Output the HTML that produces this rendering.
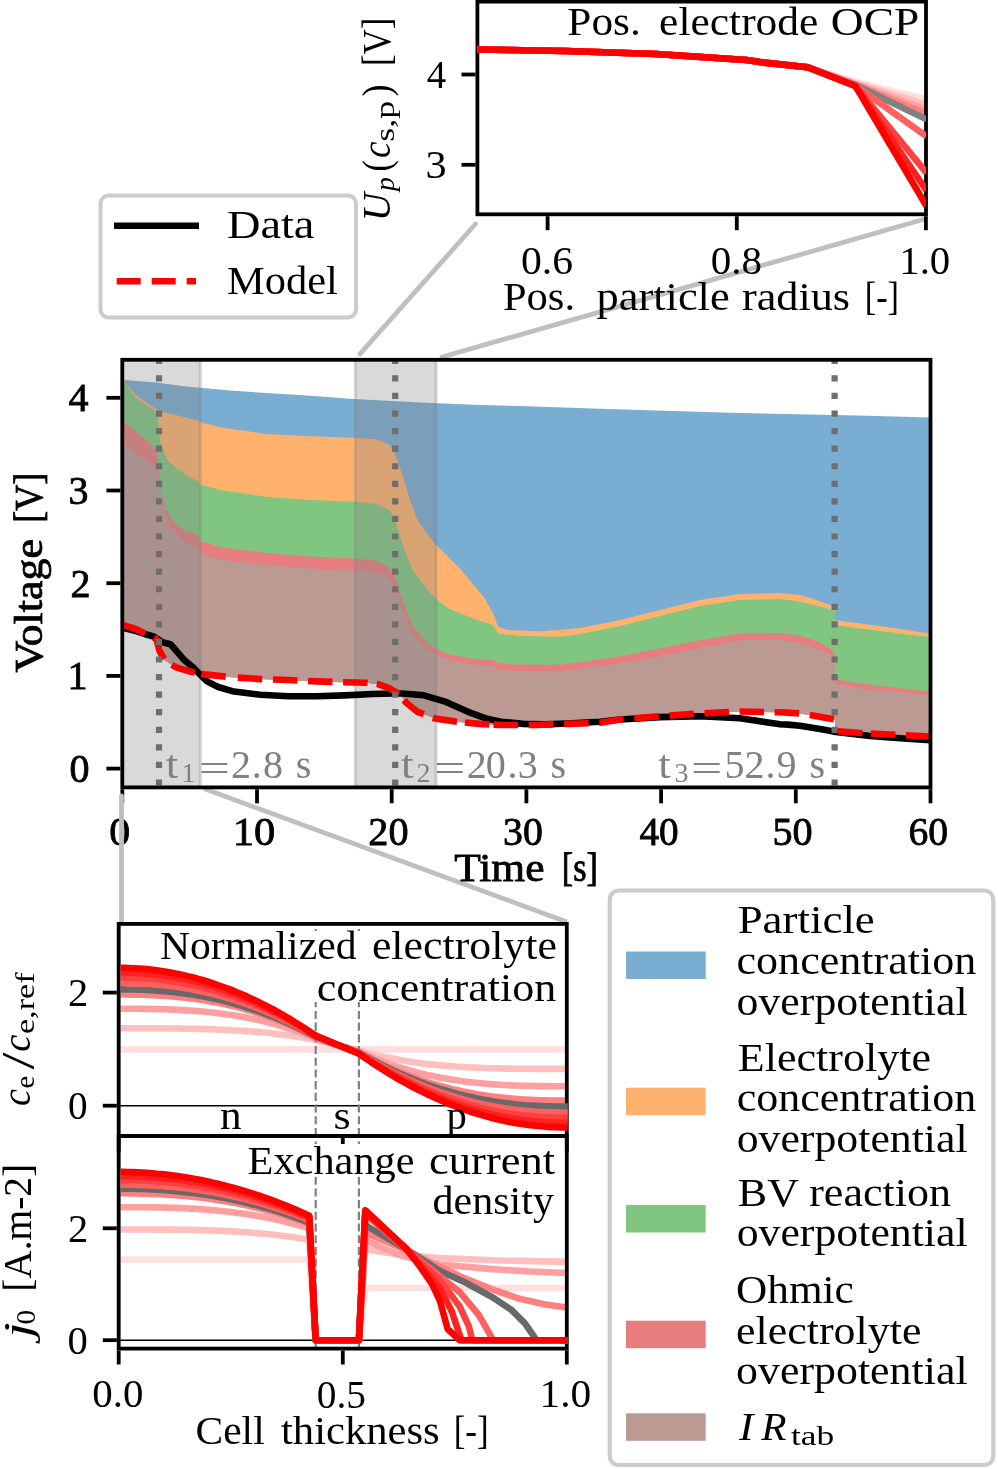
<!DOCTYPE html>
<html><head><meta charset="utf-8"><title>Voltage decomposition figure</title>
<style>html,body{margin:0;padding:0;background:#fff;} svg{display:block;}</style>
</head><body>
<svg width="998" height="1469" viewBox="0 0 998 1469" font-family="'Liberation Serif', 'DejaVu Serif', serif">
<rect x="0" y="0" width="998" height="1469" fill="#fff"/>
<line x1="360" y1="353.9" x2="475.5" y2="224" stroke="#bfbfbf" stroke-width="4.8" stroke-linecap="round"/>
<line x1="442" y1="357" x2="925" y2="219" stroke="#bfbfbf" stroke-width="4.8" stroke-linecap="round"/>
<line x1="204" y1="788.6" x2="567" y2="922" stroke="#bfbfbf" stroke-width="4.8"/>
<defs><clipPath id="cm"><rect x="122.3" y="359.8" width="808.2" height="427.59999999999997"/></clipPath><clipPath id="ce"><rect x="120.6" y="923.9" width="447.19999999999993" height="212.10000000000002"/></clipPath><clipPath id="cj"><rect x="120.6" y="1136" width="447.19999999999993" height="212.5999999999999"/></clipPath><clipPath id="ce0"><rect x="120.6" y="923.9" width="446.19999999999993" height="212.10000000000002"/></clipPath><clipPath id="cj0"><rect x="120.6" y="1136" width="446.19999999999993" height="212.5999999999999"/></clipPath><clipPath id="co"><rect x="477.4" y="1.6" width="448.6" height="212.70000000000002"/></clipPath></defs>
<g clip-path="url(#cm)">
<polygon points="122.3,380.0 124.4,380.1 140.0,381.3 156.0,382.5 182.0,385.9 200.0,387.8 230.0,390.5 266.0,393.0 300.0,395.0 354.0,399.0 420.0,402.5 480.0,404.9 520.0,406.1 600.0,408.8 730.0,412.8 858.0,415.5 930.5,417.5 930.5,736.5 900.7,735.0 860.6,733.0 835.1,731.0 834.9,719.5 828.0,718.3 812.5,715.5 800.0,713.5 780.0,712.3 740.0,711.5 700.0,713.5 660.0,716.3 620.0,719.5 600.0,722.8 567.4,723.9 534.3,725.0 501.3,725.0 479.2,723.9 457.2,721.7 435.1,718.4 417.5,711.8 406.5,703.0 399.8,694.0 393.9,691.0 389.4,688.4 378.1,684.2 366.9,682.8 344.5,682.2 316.4,681.4 288.3,680.0 260.3,679.1 232.2,677.2 204.2,674.4 190.1,671.5 176.1,667.3 164.9,660.3 159.3,650.5 156.5,639.3 148.0,635.1 136.8,629.5 124.2,625.3 122.3,624.8" fill="#79add2"/>
<polygon points="122.3,381.3 124.4,381.5 135.6,394.7 145.8,402.2 156.0,409.0 160.0,411.1 169.7,413.8 182.0,416.5 197.6,420.5 200.0,421.9 222.0,427.4 266.0,434.0 310.0,436.2 354.0,437.8 376.4,439.5 380.0,440.6 389.3,444.8 396.2,456.4 403.1,477.2 410.1,500.3 417.0,518.8 426.3,532.7 435.5,544.3 449.4,558.2 461.0,569.7 472.5,583.6 484.1,597.5 493.4,613.7 498.0,626.4 507.3,629.9 530.4,631.0 540.0,631.5 580.0,628.1 620.0,620.1 660.0,610.1 700.0,600.1 740.0,594.1 780.0,592.9 800.0,595.1 814.0,599.3 828.0,604.2 834.9,607.0 835.1,620.3 860.6,623.5 900.7,629.0 930.5,633.8 930.5,736.5 900.7,735.0 860.6,733.0 835.1,731.0 834.9,719.5 828.0,718.3 812.5,715.5 800.0,713.5 780.0,712.3 740.0,711.5 700.0,713.5 660.0,716.3 620.0,719.5 600.0,722.8 567.4,723.9 534.3,725.0 501.3,725.0 479.2,723.9 457.2,721.7 435.1,718.4 417.5,711.8 406.5,703.0 399.8,694.0 393.9,691.0 389.4,688.4 378.1,684.2 366.9,682.8 344.5,682.2 316.4,681.4 288.3,680.0 260.3,679.1 232.2,677.2 204.2,674.4 190.1,671.5 176.1,667.3 164.9,660.3 159.3,650.5 156.5,639.3 148.0,635.1 136.8,629.5 124.2,625.3 122.3,624.8" fill="#ffb26e"/>
<polygon points="122.3,381.6 124.4,381.8 135.6,397.5 145.8,405.0 154.0,410.4 158.1,417.2 158.8,429.5 160.1,439.7 162.9,449.9 168.3,461.5 173.8,465.5 176.5,469.0 182.0,471.0 184.7,474.8 197.6,481.3 200.0,484.7 222.0,490.2 266.0,496.8 310.0,500.1 354.0,501.7 376.4,503.9 389.6,510.0 396.2,523.0 403.1,546.6 412.4,569.7 426.3,588.2 435.5,598.6 449.4,609.0 472.5,618.3 493.4,625.3 498.0,633.4 518.8,635.7 560.0,636.8 580.0,634.1 620.0,626.1 660.0,616.1 700.0,606.1 740.0,600.1 780.0,598.9 800.0,601.4 814.0,604.9 828.0,608.4 834.9,611.0 835.1,625.2 860.6,628.5 900.7,633.8 930.5,637.0 930.5,736.5 900.7,735.0 860.6,733.0 835.1,731.0 834.9,719.5 828.0,718.3 812.5,715.5 800.0,713.5 780.0,712.3 740.0,711.5 700.0,713.5 660.0,716.3 620.0,719.5 600.0,722.8 567.4,723.9 534.3,725.0 501.3,725.0 479.2,723.9 457.2,721.7 435.1,718.4 417.5,711.8 406.5,703.0 399.8,694.0 393.9,691.0 389.4,688.4 378.1,684.2 366.9,682.8 344.5,682.2 316.4,681.4 288.3,680.0 260.3,679.1 232.2,677.2 204.2,674.4 190.1,671.5 176.1,667.3 164.9,660.3 159.3,650.5 156.5,639.3 148.0,635.1 136.8,629.5 124.2,625.3 122.3,624.8" fill="#80c680"/>
<polygon points="122.3,421.8 124.4,422.0 135.6,431.5 145.8,439.7 153.3,446.5 156.7,451.2 158.1,463.5 158.8,467.0 161.4,492.9 166.6,509.7 174.3,522.7 184.7,530.4 197.6,534.3 200.0,540.9 222.0,547.5 266.0,553.0 310.0,556.4 354.0,558.6 376.4,560.8 380.0,562.8 389.3,567.4 396.2,579.0 403.1,602.1 412.4,625.3 426.3,641.5 435.5,648.4 449.4,654.2 472.5,658.8 493.4,660.0 498.0,663.4 518.8,664.6 560.0,664.8 580.0,662.2 620.0,656.2 660.0,648.2 700.0,640.2 740.0,633.3 780.0,633.0 800.0,635.7 814.0,639.9 828.0,647.0 834.9,653.5 835.1,679.2 860.6,683.5 900.7,688.3 930.5,691.5 930.5,736.5 900.7,735.0 860.6,733.0 835.1,731.0 834.9,719.5 828.0,718.3 812.5,715.5 800.0,713.5 780.0,712.3 740.0,711.5 700.0,713.5 660.0,716.3 620.0,719.5 600.0,722.8 567.4,723.9 534.3,725.0 501.3,725.0 479.2,723.9 457.2,721.7 435.1,718.4 417.5,711.8 406.5,703.0 399.8,694.0 393.9,691.0 389.4,688.4 378.1,684.2 366.9,682.8 344.5,682.2 316.4,681.4 288.3,680.0 260.3,679.1 232.2,677.2 204.2,674.4 190.1,671.5 176.1,667.3 164.9,660.3 159.3,650.5 156.5,639.3 148.0,635.1 136.8,629.5 124.2,625.3 122.3,624.8" fill="#e67d7e"/>
<polygon points="122.3,443.6 124.4,443.8 135.6,453.3 145.8,460.1 154.7,467.6 158.1,475.0 159.4,478.0 162.7,499.4 169.2,525.2 178.2,535.6 184.7,542.0 197.6,547.2 200.0,554.2 222.0,559.7 266.0,565.2 310.0,568.5 354.0,570.7 376.4,572.9 380.0,574.4 389.3,579.0 396.2,588.2 403.1,613.7 412.4,634.5 426.3,648.4 435.5,654.2 449.4,660.0 472.5,664.6 493.4,665.7 498.0,670.4 518.8,671.0 560.0,671.5 580.0,668.2 620.0,663.4 660.0,656.2 700.0,648.2 740.0,640.2 780.0,639.4 800.0,643.4 814.0,647.7 828.0,653.3 834.9,659.0 835.1,683.4 860.6,688.5 900.7,692.5 930.5,695.0 930.5,736.5 900.7,735.0 860.6,733.0 835.1,731.0 834.9,719.5 828.0,718.3 812.5,715.5 800.0,713.5 780.0,712.3 740.0,711.5 700.0,713.5 660.0,716.3 620.0,719.5 600.0,722.8 567.4,723.9 534.3,725.0 501.3,725.0 479.2,723.9 457.2,721.7 435.1,718.4 417.5,711.8 406.5,703.0 399.8,694.0 393.9,691.0 389.4,688.4 378.1,684.2 366.9,682.8 344.5,682.2 316.4,681.4 288.3,680.0 260.3,679.1 232.2,677.2 204.2,674.4 190.1,671.5 176.1,667.3 164.9,660.3 159.3,650.5 156.5,639.3 148.0,635.1 136.8,629.5 124.2,625.3 122.3,624.8" fill="#ba9a93"/>
<rect x="119.6" y="354.8" width="80.8" height="437.59999999999997" fill="#808080" fill-opacity="0.3" stroke="#808080" stroke-opacity="0.3" stroke-width="3"/>
<rect x="355.3" y="354.8" width="80.8" height="437.59999999999997" fill="#808080" fill-opacity="0.3" stroke="#808080" stroke-opacity="0.3" stroke-width="3"/>
<polyline points="122.3,627.6 124.0,628.1 137.0,631.4 145.3,634.2 153.7,636.5 162.0,642.1 170.5,644.3 176.0,650.5 184.5,660.3 193.0,667.3 198.6,673.0 207.0,681.4 218.2,687.0 232.2,691.2 260.3,694.8 288.3,696.2 316.4,696.2 344.5,695.4 372.5,694.0 394.0,693.5 402.0,693.5 424.0,695.3 446.0,701.9 468.0,711.8 485.8,718.4 501.0,721.7 523.0,723.9 545.0,724.4 567.0,723.5 600.0,721.7 620.0,719.5 660.0,717.1 700.0,716.3 740.0,718.3 780.0,724.3 788.0,724.6 800.0,725.8 820.0,729.0 833.7,731.6 870.0,736.0 900.0,738.3 930.5,740.2" fill="none" stroke="#000" stroke-width="6.6" stroke-linejoin="round"/>
<path d="M122.3,624.8 L124.2,625.3 L136.8,629.5 L145.1,633.6 M153.7,637.9 L156.5,639.3 L159.3,650.5 L164.2,659.0 M171.9,664.7 L176.1,667.3 L190.1,671.5 L194.9,672.5 M201.4,673.8 L204.2,674.4 L225.7,676.6 M237.8,677.6 L260.3,679.1 L262.2,679.2 M272.9,679.5 L288.3,680.0 L297.4,680.5 M308.0,681.0 L316.4,681.4 L332.5,681.9 M343.1,682.2 L344.5,682.2 L366.9,682.8 L367.6,682.9 M376.7,684.0 L378.1,684.2 L389.4,688.4 L393.9,691.0 L399.1,693.6 M404.3,700.0 L406.5,703.0 L417.5,711.8 L423.8,714.2 M432.9,717.6 L435.1,718.4 L457.0,721.7 M464.9,722.5 L479.2,723.9 L489.3,724.4 M493.5,724.6 L501.3,725.0 L518.0,725.0 M528.8,725.0 L534.3,725.0 L553.3,724.4 M564.1,724.0 L567.4,723.9 L588.6,723.2 M599.3,722.8 L600.0,722.8 L620.0,719.5 L623.5,719.2 M634.4,718.3 L658.8,716.4 M669.4,715.6 L693.8,713.9 M704.5,713.3 L729.0,712.1 M739.6,711.5 L740.0,711.5 L764.1,712.0 M774.6,712.2 L780.0,712.3 L799.1,713.4 M809.7,715.1 L812.5,715.5 L828.0,718.3 L833.8,719.3 M837.9,731.2 L860.6,733.0 L862.3,733.1 M870.8,733.5 L895.3,734.7 M905.9,735.3 L930.4,736.5" fill="none" stroke="#f00" stroke-width="6.6" stroke-linejoin="round"/>
<line x1="159.0" y1="785.6" x2="159.0" y2="359.8" stroke="#6e6e6e" stroke-width="6.2" stroke-dasharray="6.2 11.37"/>
<line x1="395.2" y1="785.6" x2="395.2" y2="359.8" stroke="#6e6e6e" stroke-width="6.2" stroke-dasharray="6.2 11.37"/>
<line x1="834.6" y1="785.6" x2="834.6" y2="359.8" stroke="#6e6e6e" stroke-width="6.2" stroke-dasharray="6.2 11.37"/>
</g>
<rect x="122.3" y="359.8" width="808.2" height="427.6" fill="none" stroke="#000" stroke-width="3.8" stroke-linejoin="miter"/>
<line x1="106.4" y1="768.6" x2="120.4" y2="768.6" stroke="#000" stroke-width="3.8"/>
<text x="88.8" y="782.0" font-size="40" text-anchor="end" stroke="#000" stroke-width="0.8" id="my0" transform="translate(0.60,0) translate(88.80,0) scale(1.0000,1) translate(-88.80,0)">0</text>
<line x1="106.4" y1="675.9" x2="120.4" y2="675.9" stroke="#000" stroke-width="3.8"/>
<text x="88.8" y="689.3" font-size="40" text-anchor="end" stroke="#000" stroke-width="0.8" id="my1" transform="translate(-1.30,0) translate(88.80,0) scale(1.0000,1) translate(-88.80,0)">1</text>
<line x1="106.4" y1="583.2" x2="120.4" y2="583.2" stroke="#000" stroke-width="3.8"/>
<text x="88.8" y="596.6" font-size="40" text-anchor="end" stroke="#000" stroke-width="0.8" id="my2" transform="translate(1.60,0) translate(88.80,0) scale(1.0000,1) translate(-88.80,0)">2</text>
<line x1="106.4" y1="490.5" x2="120.4" y2="490.5" stroke="#000" stroke-width="3.8"/>
<text x="88.8" y="503.9" font-size="40" text-anchor="end" stroke="#000" stroke-width="0.8" id="my3" transform="translate(-0.40,0) translate(88.80,0) scale(1.0000,1) translate(-88.80,0)">3</text>
<line x1="106.4" y1="397.8" x2="120.4" y2="397.8" stroke="#000" stroke-width="3.8"/>
<text x="88.8" y="411.2" font-size="40" text-anchor="end" stroke="#000" stroke-width="0.8" id="my4" transform="translate(-0.40,0) translate(88.80,0) scale(1.0000,1) translate(-88.80,0)">4</text>
<line x1="122.3" y1="789.3" x2="122.3" y2="803.3" stroke="#000" stroke-width="3.8"/>
<text x="122.3" y="844.6" font-size="40" text-anchor="middle" stroke="#000" stroke-width="0.8" id="mx0" transform="translate(-2.46,0) translate(122.30,0) scale(1.0474,1) translate(-122.30,0)">0</text>
<line x1="257.0" y1="789.3" x2="257.0" y2="803.3" stroke="#000" stroke-width="3.8"/>
<text x="257.0" y="844.6" font-size="40" text-anchor="middle" stroke="#000" stroke-width="0.8" id="mx10" transform="translate(-3.01,0) translate(257.00,0) scale(1.0639,1) translate(-257.00,0)">10</text>
<line x1="391.7" y1="789.3" x2="391.7" y2="803.3" stroke="#000" stroke-width="3.8"/>
<text x="391.7" y="844.6" font-size="40" text-anchor="middle" stroke="#000" stroke-width="0.8" id="mx20" transform="translate(-3.30,0) translate(391.70,0) scale(1.0053,1) translate(-391.70,0)">20</text>
<line x1="526.4" y1="789.3" x2="526.4" y2="803.3" stroke="#000" stroke-width="3.8"/>
<text x="526.4" y="844.6" font-size="40" text-anchor="middle" stroke="#000" stroke-width="0.8" id="mx30" transform="translate(-3.50,0) translate(526.40,0) scale(0.9947,1) translate(-526.40,0)">30</text>
<line x1="661.1" y1="789.3" x2="661.1" y2="803.3" stroke="#000" stroke-width="3.8"/>
<text x="661.1" y="844.6" font-size="40" text-anchor="middle" stroke="#000" stroke-width="0.8" id="mx40" transform="translate(-2.11,0) translate(661.10,0) scale(0.9795,1) translate(-661.10,0)">40</text>
<line x1="795.8" y1="789.3" x2="795.8" y2="803.3" stroke="#000" stroke-width="3.8"/>
<text x="795.8" y="844.6" font-size="40" text-anchor="middle" stroke="#000" stroke-width="0.8" id="mx50" transform="translate(-3.20,0) translate(795.80,0) scale(1.0053,1) translate(-795.80,0)">50</text>
<line x1="930.5" y1="789.3" x2="930.5" y2="803.3" stroke="#000" stroke-width="3.8"/>
<text x="930.5" y="844.6" font-size="40" text-anchor="middle" stroke="#000" stroke-width="0.8" id="mx60" transform="translate(-2.15,0) translate(930.50,0) scale(0.9923,1) translate(-930.50,0)">60</text>
<text x="453.6" y="881.2" font-size="40" stroke="#000" stroke-width="0.8" id="mxl_w0" transform="translate(0.65,0) translate(453.60,0) scale(1.0867,1) translate(-453.60,0)">Time</text>
<text x="563.3" y="881.2" font-size="40" stroke="#000" stroke-width="0.8" id="mxl_w1" transform="translate(-1.45,0) translate(563.30,0) scale(0.8553,1) translate(-563.30,0)">[s]</text>
<text id="myl1" transform="translate(42.30,672.80) rotate(-90) translate(0.22,0) scale(1.0992,1)" x="0" y="0" font-size="40" stroke="#000" stroke-width="0.8">Voltage</text>
<text id="myl2" transform="translate(42.30,521.00) rotate(-90) translate(-1.81,0) scale(0.9039,1)" x="0" y="0" font-size="40" stroke="#000" stroke-width="0.8">[V]</text>
<text x="165.3" y="777.9" font-size="40" fill="#808080" id="t1_0" transform="translate(0.34,0) translate(165.30,0) scale(1.1273,1) translate(-165.30,0)">t</text>
<text x="183.7" y="781.9" font-size="28" fill="#808080" id="t1_1" transform="translate(-2.30,0) translate(183.70,0) scale(1.0000,1) translate(-183.70,0)">1</text>
<text x="200.6" y="781.7" font-size="40" fill="#808080" id="t1_2" transform="translate(-1.95,0) translate(200.60,0) scale(1.3895,1) translate(-200.60,0)">=</text>
<text x="232.0" y="777.9" font-size="40" fill="#808080" id="t1_3" transform="translate(-1.00,0) translate(232.00,0) scale(1.0000,1) translate(-232.00,0)">2</text>
<text x="254.4" y="777.9" font-size="40" fill="#808080" id="t1_4" transform="translate(-2.60,0) translate(254.40,0) scale(1.0000,1) translate(-254.40,0)">.</text>
<text x="264.0" y="777.9" font-size="40" fill="#808080" id="t1_5" transform="translate(-1.00,0) translate(264.00,0) scale(1.0000,1) translate(-264.00,0)">8</text>
<text x="296.9" y="777.9" font-size="40" fill="#808080" id="t1_6" transform="translate(-1.10,0) translate(296.90,0) scale(1.0000,1) translate(-296.90,0)">s</text>
<text x="401.0" y="777.9" font-size="40" fill="#808080" id="t2_0" transform="translate(0.00,0) translate(401.00,0) scale(1.1273,1) translate(-401.00,0)">t</text>
<text x="417.8" y="781.9" font-size="28" fill="#808080" id="t2_1" transform="translate(-1.20,0) translate(417.80,0) scale(1.0000,1) translate(-417.80,0)">2</text>
<text x="436.3" y="781.7" font-size="40" fill="#808080" id="t2_2" transform="translate(-2.36,0) translate(436.30,0) scale(1.3895,1) translate(-436.30,0)">=</text>
<text x="467.9" y="777.9" font-size="40" fill="#808080" id="t2_3" transform="translate(-1.10,0) translate(467.90,0) scale(1.0000,1) translate(-467.90,0)">2</text>
<text x="487.4" y="777.9" font-size="40" fill="#808080" id="t2_4" transform="translate(-1.60,0) translate(487.40,0) scale(1.0000,1) translate(-487.40,0)">0</text>
<text x="509.8" y="777.9" font-size="40" fill="#808080" id="t2_5" transform="translate(-2.20,0) translate(509.80,0) scale(1.0000,1) translate(-509.80,0)">.</text>
<text x="519.4" y="777.9" font-size="40" fill="#808080" id="t2_6" transform="translate(-1.60,0) translate(519.40,0) scale(1.0000,1) translate(-519.40,0)">3</text>
<text x="552.3" y="777.9" font-size="40" fill="#808080" id="t2_7" transform="translate(-1.70,0) translate(552.30,0) scale(1.0000,1) translate(-552.30,0)">s</text>
<text x="658.6" y="777.9" font-size="40" fill="#808080" id="t3_0" transform="translate(-0.45,0) translate(658.60,0) scale(1.1273,1) translate(-658.60,0)">t</text>
<text x="675.8" y="781.9" font-size="28" fill="#808080" id="t3_1" transform="translate(-1.20,0) translate(675.80,0) scale(1.0000,1) translate(-675.80,0)">3</text>
<text x="693.9" y="781.7" font-size="40" fill="#808080" id="t3_2" transform="translate(-2.92,0) translate(693.90,0) scale(1.3895,1) translate(-693.90,0)">=</text>
<text x="726.3" y="777.9" font-size="40" fill="#808080" id="t3_3" transform="translate(-1.70,0) translate(726.30,0) scale(1.0000,1) translate(-726.30,0)">5</text>
<text x="745.8" y="777.9" font-size="40" fill="#808080" id="t3_4" transform="translate(-1.20,0) translate(745.80,0) scale(1.0000,1) translate(-745.80,0)">2</text>
<text x="768.2" y="777.9" font-size="40" fill="#808080" id="t3_5" transform="translate(-2.80,0) translate(768.20,0) scale(1.0000,1) translate(-768.20,0)">.</text>
<text x="777.8" y="777.9" font-size="40" fill="#808080" id="t3_6" transform="translate(-1.20,0) translate(777.80,0) scale(1.0000,1) translate(-777.80,0)">9</text>
<text x="810.7" y="777.9" font-size="40" fill="#808080" id="t3_7" transform="translate(-1.30,0) translate(810.70,0) scale(1.0000,1) translate(-810.70,0)">s</text>
<line x1="121.5" y1="796" x2="121.5" y2="921" stroke="#bfbfbf" stroke-width="4.8" stroke-linecap="round"/>
<rect x="100.5" y="195.5" width="255.5" height="122" rx="8" ry="8" fill="#fff" fill-opacity="0.8" stroke="#cccccc" stroke-width="4"/>
<line x1="114" y1="225.7" x2="199" y2="225.7" stroke="#000" stroke-width="6.6"/>
<line x1="116.7" y1="281.2" x2="196" y2="281.2" stroke="#f00" stroke-width="6.6" stroke-dasharray="24 11"/>
<text x="227.5" y="238.3" font-size="40" id="lg_data" transform="translate(-0.58,0) translate(227.50,0) scale(1.1600,1) translate(-227.50,0)">Data</text>
<text x="227.5" y="293.9" font-size="40" id="lg_model" transform="translate(-0.53,0) translate(227.50,0) scale(1.0621,1) translate(-227.50,0)">Model</text>
<g clip-path="url(#co)">
<polyline points="477.4,49.5 566.0,51.0 656.0,54.0 746.5,60.0 760.0,62.1 807.7,67.3 855.4,82.0 926.5,99.6" fill="none" stroke="rgb(255,223,223)" stroke-width="6.6" stroke-linejoin="round"/>
<polyline points="477.4,49.5 566.0,51.0 656.0,54.0 746.5,60.0 760.0,62.1 807.7,67.3 855.4,83.0 926.5,104.7" fill="none" stroke="rgb(255,191,191)" stroke-width="6.6" stroke-linejoin="round"/>
<polyline points="477.4,49.5 566.0,51.0 656.0,54.0 746.5,60.0 760.0,62.1 807.7,67.3 855.4,84.0 926.5,109.8" fill="none" stroke="rgb(255,159,159)" stroke-width="6.6" stroke-linejoin="round"/>
<polyline points="477.4,49.5 566.0,51.0 656.0,54.0 746.5,60.0 760.0,62.1 807.7,67.3 855.4,84.5 926.5,114.0" fill="none" stroke="rgb(255,128,128)" stroke-width="6.6" stroke-linejoin="round"/>
</g>
<rect x="477.4" y="1.6" width="448.6" height="212.7" fill="none" stroke="#000" stroke-width="3.8" stroke-linejoin="miter"/>
<g clip-path="url(#co)">
<polyline points="477.4,49.5 566.0,51.0 656.0,54.0 746.5,60.0 760.0,62.1 807.7,67.3 855.4,85.0 926.5,119.3" fill="none" stroke="#808080" stroke-width="6.6" stroke-linejoin="round"/>
<polyline points="477.4,49.5 566.0,51.0 656.0,54.0 746.5,60.0 760.0,62.1 807.7,67.3 855.4,85.5 926.5,136.3" fill="none" stroke="rgb(255,96,96)" stroke-width="6.6" stroke-linejoin="round"/>
<polyline points="477.4,49.5 566.0,51.0 656.0,54.0 746.5,60.0 760.0,62.1 807.7,67.3 855.4,86.0 926.5,172.8" fill="none" stroke="rgb(255,64,64)" stroke-width="6.6" stroke-linejoin="round"/>
<polyline points="477.4,49.5 566.0,51.0 656.0,54.0 746.5,60.0 760.0,62.1 807.7,67.3 855.4,86.0 926.5,190.5" fill="none" stroke="rgb(255,32,32)" stroke-width="6.6" stroke-linejoin="round"/>
<polyline points="477.4,49.5 566.0,51.0 656.0,54.0 746.5,60.0 760.0,62.1 807.7,67.3 855.4,86.0 926.5,206.0" fill="none" stroke="rgb(255,0,0)" stroke-width="6.6" stroke-linejoin="round"/>
</g>
<line x1="461.5" y1="74.5" x2="475.5" y2="74.5" stroke="#000" stroke-width="3.8"/>
<text x="446.5" y="87.9" font-size="40" text-anchor="end" id="oy4" transform="translate(-0.32,0) translate(446.50,0) scale(0.9684,1) translate(-446.50,0)">4</text>
<line x1="461.5" y1="164.8" x2="475.5" y2="164.8" stroke="#000" stroke-width="3.8"/>
<text x="446.5" y="178.2" font-size="40" text-anchor="end" id="oy3" transform="translate(0.29,0) translate(446.50,0) scale(1.0588,1) translate(-446.50,0)">3</text>
<line x1="547.6" y1="216.2" x2="547.6" y2="230.2" stroke="#000" stroke-width="3.8"/>
<text x="547.6" y="273.6" font-size="40" text-anchor="middle" id="ox0.6" transform="translate(-0.52,0) translate(547.60,0) scale(1.0417,1) translate(-547.60,0)">0.6</text>
<line x1="736.8" y1="216.2" x2="736.8" y2="230.2" stroke="#000" stroke-width="3.8"/>
<text x="736.8" y="273.6" font-size="40" text-anchor="middle" id="ox0.8" transform="translate(-0.40,0) translate(736.80,0) scale(1.0250,1) translate(-736.80,0)">0.8</text>
<line x1="925.9" y1="216.2" x2="925.9" y2="230.2" stroke="#000" stroke-width="3.8"/>
<text x="925.9" y="273.6" font-size="40" text-anchor="middle" id="ox1.0" transform="translate(-1.17,0) translate(925.90,0) scale(1.0196,1) translate(-925.90,0)">1.0</text>
<text x="568.2" y="35.0" font-size="40" id="otitle_w0" transform="translate(-0.87,0) translate(568.20,0) scale(1.0831,1) translate(-568.20,0)">Pos.</text>
<text x="660.1" y="35.0" font-size="40" id="otitle_w1" transform="translate(-0.98,0) translate(660.10,0) scale(1.0869,1) translate(-660.10,0)">electrode</text>
<text x="832.5" y="35.0" font-size="40" id="otitle_w2" transform="translate(-1.71,0) translate(832.50,0) scale(1.1373,1) translate(-832.50,0)">OCP</text>
<text x="504.0" y="310.1" font-size="40" id="oxl_w0" transform="translate(-1.06,0) translate(504.00,0) scale(1.0641,1) translate(-504.00,0)">Pos.</text>
<text x="596.2" y="310.1" font-size="40" id="oxl_w1" transform="translate(0.22,0) translate(596.20,0) scale(1.1118,1) translate(-596.20,0)">particle</text>
<text x="742.5" y="310.1" font-size="40" id="oxl_w2" transform="translate(-0.55,0) translate(742.50,0) scale(1.1063,1) translate(-742.50,0)">radius</text>
<text x="866.7" y="310.1" font-size="40" id="oxl_w3" transform="translate(-1.98,0) translate(866.70,0) scale(0.8600,1) translate(-866.70,0)">[-]</text>
<text id="oyl1" transform="translate(389.50,218.20) rotate(-90) translate(-3.15,0) scale(0.9857,1)" x="0" y="0" font-size="40" font-style="italic">U</text>
<text id="oyl2" transform="translate(389.50,192.50) rotate(-90) translate(1.48,0) scale(0.9867,1)" x="0" y="4" font-size="28" font-style="italic">p</text>
<text id="oyl3" transform="translate(389.50,170.30) rotate(-90) translate(-1.10,0) scale(0.8455,1)" x="0" y="0" font-size="40">(</text>
<text id="oyl4" transform="translate(389.50,157.00) rotate(-90) translate(-0.93,0) scale(0.9294,1)" x="0" y="0" font-size="40" font-style="italic">c</text>
<text id="oyl5" transform="translate(389.50,140.20) rotate(-90) translate(-1.54,0) scale(1.2833,1)" x="0" y="4" font-size="28">s,p</text>
<text id="oyl6" transform="translate(389.50,95.80) rotate(-90) translate(-0.72,0) scale(0.9000,1)" x="0" y="0" font-size="40">)</text>
<text id="oyl7" transform="translate(389.50,64.20) rotate(-90) translate(-1.92,0) scale(0.8745,1)" x="0" y="0" font-size="40">[V]</text>
<line x1="118.7" y1="1105.7" x2="566.8" y2="1105.7" stroke="#000" stroke-width="1.5"/>
<g clip-path="url(#ce0)">
<polyline points="118.7,1049.4 123.6,1049.4 128.6,1049.4 133.5,1049.4 138.4,1049.4 143.3,1049.4 148.2,1049.4 153.2,1049.4 158.1,1049.4 163.0,1049.4 167.9,1049.4 172.9,1049.4 177.8,1049.4 182.7,1049.4 187.6,1049.4 192.6,1049.4 197.5,1049.4 202.4,1049.4 207.4,1049.4 212.3,1049.4 217.2,1049.4 222.1,1049.4 227.1,1049.4 232.0,1049.4 236.9,1049.4 241.8,1049.4 246.8,1049.4 251.7,1049.4 256.6,1049.4 261.5,1049.4 266.4,1049.4 271.4,1049.4 276.3,1049.4 281.2,1049.4 286.1,1049.4 291.1,1049.4 296.0,1049.4 300.9,1049.4 305.8,1049.4 310.8,1049.4 315.7,1049.4 358.9,1049.4 364.1,1049.4 369.3,1049.4 374.5,1049.4 379.7,1049.4 384.9,1049.4 390.1,1049.4 395.3,1049.4 400.5,1049.4 405.7,1049.4 410.9,1049.4 416.1,1049.4 421.3,1049.4 426.5,1049.4 431.7,1049.4 436.9,1049.4 442.1,1049.4 447.3,1049.4 452.5,1049.4 457.7,1049.4 462.8,1049.4 468.0,1049.4 473.2,1049.4 478.4,1049.4 483.6,1049.4 488.8,1049.4 494.0,1049.4 499.2,1049.4 504.4,1049.4 509.6,1049.4 514.8,1049.4 520.0,1049.4 525.2,1049.4 530.4,1049.4 535.6,1049.4 540.8,1049.4 546.0,1049.4 551.2,1049.4 556.4,1049.4 561.6,1049.4 566.8,1049.4 568.5,1049.4" fill="none" stroke="rgb(255,223,223)" stroke-width="6.6" stroke-linejoin="round"/>
<polyline points="118.7,1028.3 123.6,1028.3 128.6,1028.3 133.5,1028.3 138.4,1028.3 143.3,1028.3 148.2,1028.3 153.2,1028.3 158.1,1028.4 163.0,1028.4 167.9,1028.4 172.9,1028.5 177.8,1028.5 182.7,1028.6 187.6,1028.7 192.6,1028.8 197.5,1028.9 202.4,1029.0 207.4,1029.1 212.3,1029.3 217.2,1029.5 222.1,1029.7 227.1,1029.9 232.0,1030.2 236.9,1030.5 241.8,1030.8 246.8,1031.1 251.7,1031.5 256.6,1031.9 261.5,1032.3 266.4,1032.8 271.4,1033.3 276.3,1033.9 281.2,1034.5 286.1,1035.1 291.1,1035.8 296.0,1036.6 300.9,1037.3 305.8,1038.2 310.8,1039.1 315.7,1040.0 358.9,1050.5 364.1,1052.0 369.3,1053.4 374.5,1054.7 379.7,1055.9 384.9,1057.1 390.1,1058.1 395.3,1059.1 400.5,1060.1 405.7,1061.0 410.9,1061.8 416.1,1062.5 421.3,1063.2 426.5,1063.9 431.7,1064.5 436.9,1065.0 442.1,1065.5 447.3,1065.9 452.5,1066.3 457.7,1066.7 462.8,1067.0 468.0,1067.3 473.2,1067.6 478.4,1067.8 483.6,1068.0 488.8,1068.2 494.0,1068.3 499.2,1068.4 504.4,1068.6 509.6,1068.6 514.8,1068.7 520.0,1068.8 525.2,1068.8 530.4,1068.8 535.6,1068.9 540.8,1068.9 546.0,1068.9 551.2,1068.9 556.4,1068.9 561.6,1068.9 566.8,1068.9 568.5,1068.9" fill="none" stroke="rgb(255,191,191)" stroke-width="6.6" stroke-linejoin="round"/>
<polyline points="118.7,1008.8 123.6,1008.8 128.6,1008.8 133.5,1008.8 138.4,1008.8 143.3,1008.9 148.2,1008.9 153.2,1009.0 158.1,1009.1 163.0,1009.3 167.9,1009.4 172.9,1009.6 177.8,1009.8 182.7,1010.1 187.6,1010.4 192.6,1010.7 197.5,1011.1 202.4,1011.5 207.4,1012.0 212.3,1012.5 217.2,1013.1 222.1,1013.7 227.1,1014.4 232.0,1015.1 236.9,1015.9 241.8,1016.8 246.8,1017.7 251.7,1018.7 256.6,1019.7 261.5,1020.9 266.4,1022.1 271.4,1023.3 276.3,1024.7 281.2,1026.1 286.1,1027.6 291.1,1029.2 296.0,1030.9 300.9,1032.7 305.8,1034.5 310.8,1036.5 315.7,1038.5 358.9,1051.5 364.1,1053.9 369.3,1056.1 374.5,1058.3 379.7,1060.4 384.9,1062.3 390.1,1064.2 395.3,1066.0 400.5,1067.6 405.7,1069.2 410.9,1070.7 416.1,1072.1 421.3,1073.4 426.5,1074.7 431.7,1075.8 436.9,1076.9 442.1,1077.9 447.3,1078.8 452.5,1079.7 457.7,1080.5 462.8,1081.2 468.0,1081.9 473.2,1082.5 478.4,1083.0 483.6,1083.5 488.8,1084.0 494.0,1084.4 499.2,1084.7 504.4,1085.0 509.6,1085.3 514.8,1085.5 520.0,1085.7 525.2,1085.8 530.4,1085.9 535.6,1086.0 540.8,1086.1 546.0,1086.1 551.2,1086.2 556.4,1086.2 561.6,1086.2 566.8,1086.2 568.5,1086.2" fill="none" stroke="rgb(255,159,159)" stroke-width="6.6" stroke-linejoin="round"/>
<polyline points="118.7,994.5 123.6,994.5 128.6,994.5 133.5,994.6 138.4,994.7 143.3,994.8 148.2,995.0 153.2,995.2 158.1,995.4 163.0,995.7 167.9,996.0 172.9,996.4 177.8,996.9 182.7,997.4 187.6,998.0 192.6,998.6 197.5,999.3 202.4,1000.0 207.4,1000.8 212.3,1001.7 217.2,1002.6 222.1,1003.7 227.1,1004.7 232.0,1005.9 236.9,1007.1 241.8,1008.4 246.8,1009.8 251.7,1011.2 256.6,1012.8 261.5,1014.4 266.4,1016.1 271.4,1017.8 276.3,1019.7 281.2,1021.6 286.1,1023.6 291.1,1025.7 296.0,1027.9 300.9,1030.2 305.8,1032.5 310.8,1035.0 315.7,1037.5 358.9,1052.2 364.1,1055.1 369.3,1057.8 374.5,1060.5 379.7,1063.0 384.9,1065.5 390.1,1067.8 395.3,1070.1 400.5,1072.3 405.7,1074.3 410.9,1076.3 416.1,1078.2 421.3,1080.0 426.5,1081.8 431.7,1083.4 436.9,1084.9 442.1,1086.4 447.3,1087.8 452.5,1089.1 457.7,1090.3 462.8,1091.4 468.0,1092.5 473.2,1093.5 478.4,1094.4 483.6,1095.2 488.8,1096.0 494.0,1096.7 499.2,1097.3 504.4,1097.9 509.6,1098.4 514.8,1098.9 520.0,1099.3 525.2,1099.6 530.4,1099.9 535.6,1100.1 540.8,1100.3 546.0,1100.4 551.2,1100.5 556.4,1100.6 561.6,1100.6 566.8,1100.6 568.5,1100.6" fill="none" stroke="rgb(255,128,128)" stroke-width="6.6" stroke-linejoin="round"/>
</g>
<line x1="315.7" y1="1136" x2="315.7" y2="923.9" stroke="#808080" stroke-width="2.2" stroke-dasharray="8.1 3.6"/>
<line x1="358.9" y1="1136" x2="358.9" y2="923.9" stroke="#808080" stroke-width="2.2" stroke-dasharray="8.1 3.6"/>
<rect x="156" y="931" width="405" height="38" fill="#fff"/>
<rect x="313" y="967" width="248" height="35" fill="#fff"/>
<text x="160.5" y="958.7" font-size="40" id="et1_w0" transform="translate(-0.52,0) translate(160.50,0) scale(1.0410,1) translate(-160.50,0)">Normalized</text>
<text x="373.0" y="958.7" font-size="40" id="et1_w1" transform="translate(-1.10,0) translate(373.00,0) scale(1.0964,1) translate(-373.00,0)">electrolyte</text>
<text x="556.1" y="1000.8" font-size="40" text-anchor="end" id="et2" transform="translate(0.11,0) translate(556.10,0) scale(1.1005,1) translate(-556.10,0)">concentration</text>
<rect x="118.7" y="923.9" width="448.1" height="212.1" fill="none" stroke="#000" stroke-width="3.8" stroke-linejoin="miter"/>
<g clip-path="url(#ce)">
<polyline points="118.7,989.4 123.6,989.4 128.6,989.5 133.5,989.5 138.4,989.7 143.3,989.8 148.2,990.1 153.2,990.3 158.1,990.7 163.0,991.1 167.9,991.5 172.9,992.0 177.8,992.6 182.7,993.2 187.6,993.9 192.6,994.6 197.5,995.5 202.4,996.3 207.4,997.3 212.3,998.3 217.2,999.4 222.1,1000.6 227.1,1001.8 232.0,1003.1 236.9,1004.5 241.8,1005.9 246.8,1007.5 251.7,1009.1 256.6,1010.7 261.5,1012.5 266.4,1014.3 271.4,1016.2 276.3,1018.2 281.2,1020.3 286.1,1022.4 291.1,1024.6 296.0,1027.0 300.9,1029.3 305.8,1031.8 310.8,1034.4 315.7,1037.0 358.9,1052.5 364.1,1055.5 369.3,1058.4 374.5,1061.2 379.7,1063.9 384.9,1066.5 390.1,1069.1 395.3,1071.5 400.5,1073.9 405.7,1076.1 410.9,1078.3 416.1,1080.4 421.3,1082.4 426.5,1084.3 431.7,1086.1 436.9,1087.8 442.1,1089.5 447.3,1091.0 452.5,1092.5 457.7,1093.9 462.8,1095.2 468.0,1096.5 473.2,1097.6 478.4,1098.7 483.6,1099.7 488.8,1100.6 494.0,1101.5 499.2,1102.3 504.4,1103.0 509.6,1103.6 514.8,1104.2 520.0,1104.7 525.2,1105.2 530.4,1105.5 535.6,1105.8 540.8,1106.1 546.0,1106.3 551.2,1106.4 556.4,1106.5 561.6,1106.6 566.8,1106.6 568.5,1106.6" fill="none" stroke="#696969" stroke-width="6.6" stroke-linejoin="round"/>
<polyline points="118.7,983.0 123.6,983.0 128.6,983.1 133.5,983.2 138.4,983.4 143.3,983.6 148.2,983.9 153.2,984.3 158.1,984.7 163.0,985.2 167.9,985.7 172.9,986.3 177.8,987.0 182.7,987.8 187.6,988.6 192.6,989.5 197.5,990.5 202.4,991.5 207.4,992.6 212.3,993.8 217.2,995.1 222.1,996.4 227.1,997.8 232.0,999.3 236.9,1000.8 241.8,1002.5 246.8,1004.2 251.7,1006.0 256.6,1007.8 261.5,1009.8 266.4,1011.8 271.4,1013.9 276.3,1016.1 281.2,1018.4 286.1,1020.7 291.1,1023.1 296.0,1025.7 300.9,1028.2 305.8,1030.9 310.8,1033.7 315.7,1036.5 358.9,1053.0 364.1,1056.2 369.3,1059.2 374.5,1062.2 379.7,1065.1 384.9,1067.9 390.1,1070.6 395.3,1073.2 400.5,1075.7 405.7,1078.2 410.9,1080.5 416.1,1082.8 421.3,1085.0 426.5,1087.1 431.7,1089.1 436.9,1091.0 442.1,1092.8 447.3,1094.5 452.5,1096.2 457.7,1097.8 462.8,1099.2 468.0,1100.7 473.2,1102.0 478.4,1103.2 483.6,1104.4 488.8,1105.5 494.0,1106.5 499.2,1107.4 504.4,1108.2 509.6,1109.0 514.8,1109.7 520.0,1110.3 525.2,1110.8 530.4,1111.3 535.6,1111.7 540.8,1112.0 546.0,1112.3 551.2,1112.5 556.4,1112.6 561.6,1112.7 566.8,1112.7 568.5,1112.7" fill="none" stroke="rgb(255,96,96)" stroke-width="6.6" stroke-linejoin="round"/>
<polyline points="118.7,977.5 123.6,977.5 128.6,977.6 133.5,977.8 138.4,978.0 143.3,978.2 148.2,978.6 153.2,979.0 158.1,979.5 163.0,980.1 167.9,980.7 172.9,981.4 177.8,982.2 182.7,983.0 187.6,984.0 192.6,985.0 197.5,986.1 202.4,987.2 207.4,988.5 212.3,989.8 217.2,991.2 222.1,992.7 227.1,994.2 232.0,995.9 236.9,997.6 241.8,999.4 246.8,1001.3 251.7,1003.2 256.6,1005.3 261.5,1007.4 266.4,1009.6 271.4,1011.9 276.3,1014.2 281.2,1016.7 286.1,1019.2 291.1,1021.8 296.0,1024.5 300.9,1027.3 305.8,1030.2 310.8,1033.2 315.7,1036.2 358.9,1053.3 364.1,1056.6 369.3,1059.9 374.5,1063.0 379.7,1066.1 384.9,1069.1 390.1,1071.9 395.3,1074.7 400.5,1077.4 405.7,1080.0 410.9,1082.5 416.1,1085.0 421.3,1087.3 426.5,1089.5 431.7,1091.7 436.9,1093.8 442.1,1095.7 447.3,1097.6 452.5,1099.4 457.7,1101.1 462.8,1102.8 468.0,1104.3 473.2,1105.7 478.4,1107.1 483.6,1108.4 488.8,1109.6 494.0,1110.7 499.2,1111.7 504.4,1112.7 509.6,1113.5 514.8,1114.3 520.0,1115.0 525.2,1115.6 530.4,1116.1 535.6,1116.6 540.8,1117.0 546.0,1117.3 551.2,1117.5 556.4,1117.7 561.6,1117.8 566.8,1117.8 568.5,1117.8" fill="none" stroke="rgb(255,64,64)" stroke-width="6.6" stroke-linejoin="round"/>
<polyline points="118.7,972.5 123.6,972.5 128.6,972.6 133.5,972.8 138.4,973.1 143.3,973.4 148.2,973.8 153.2,974.3 158.1,974.8 163.0,975.5 167.9,976.2 172.9,977.0 177.8,977.9 182.7,978.8 187.6,979.9 192.6,981.0 197.5,982.2 202.4,983.5 207.4,984.8 212.3,986.3 217.2,987.8 222.1,989.4 227.1,991.1 232.0,992.9 236.9,994.7 241.8,996.7 246.8,998.7 251.7,1000.8 256.6,1003.0 261.5,1005.3 266.4,1007.7 271.4,1010.1 276.3,1012.6 281.2,1015.2 286.1,1017.9 291.1,1020.7 296.0,1023.6 300.9,1026.5 305.8,1029.6 310.8,1032.7 315.7,1035.9 358.9,1053.5 364.1,1057.0 369.3,1060.4 374.5,1063.7 379.7,1067.0 384.9,1070.1 390.1,1073.1 395.3,1076.1 400.5,1078.9 405.7,1081.7 410.9,1084.4 416.1,1087.0 421.3,1089.4 426.5,1091.8 431.7,1094.1 436.9,1096.4 442.1,1098.5 447.3,1100.5 452.5,1102.5 457.7,1104.3 462.8,1106.1 468.0,1107.7 473.2,1109.3 478.4,1110.8 483.6,1112.2 488.8,1113.5 494.0,1114.7 499.2,1115.9 504.4,1116.9 509.6,1117.9 514.8,1118.8 520.0,1119.5 525.2,1120.2 530.4,1120.9 535.6,1121.4 540.8,1121.8 546.0,1122.2 551.2,1122.5 556.4,1122.7 561.6,1122.8 566.8,1122.8 568.5,1122.8" fill="none" stroke="rgb(255,32,32)" stroke-width="6.6" stroke-linejoin="round"/>
<polyline points="118.7,967.8 123.6,967.8 128.6,968.0 133.5,968.2 138.4,968.5 143.3,968.9 148.2,969.3 153.2,969.9 158.1,970.5 163.0,971.2 167.9,972.0 172.9,972.9 177.8,973.9 182.7,975.0 187.6,976.1 192.6,977.3 197.5,978.6 202.4,980.0 207.4,981.5 212.3,983.1 217.2,984.8 222.1,986.5 227.1,988.3 232.0,990.2 236.9,992.2 241.8,994.3 246.8,996.4 251.7,998.7 256.6,1001.0 261.5,1003.4 266.4,1005.9 271.4,1008.5 276.3,1011.2 281.2,1013.9 286.1,1016.8 291.1,1019.7 296.0,1022.7 300.9,1025.8 305.8,1029.0 310.8,1032.3 315.7,1035.6 358.9,1053.7 364.1,1057.3 369.3,1060.9 374.5,1064.4 379.7,1067.7 384.9,1071.0 390.1,1074.2 395.3,1077.3 400.5,1080.3 405.7,1083.2 410.9,1086.0 416.1,1088.7 421.3,1091.3 426.5,1093.9 431.7,1096.3 436.9,1098.7 442.1,1100.9 447.3,1103.1 452.5,1105.2 457.7,1107.2 462.8,1109.0 468.0,1110.8 473.2,1112.6 478.4,1114.2 483.6,1115.7 488.8,1117.1 494.0,1118.5 499.2,1119.7 504.4,1120.9 509.6,1121.9 514.8,1122.9 520.0,1123.8 525.2,1124.5 530.4,1125.2 535.6,1125.8 540.8,1126.3 546.0,1126.8 551.2,1127.1 556.4,1127.3 561.6,1127.5 566.8,1127.5 568.5,1127.5" fill="none" stroke="rgb(255,0,0)" stroke-width="6.6" stroke-linejoin="round"/>
</g>
<text x="231.0" y="1128.7" font-size="40" text-anchor="middle" id="en" transform="translate(-0.29,0) translate(231.00,0) scale(1.0789,1) translate(-231.00,0)">n</text>
<text x="342.8" y="1128.7" font-size="40" text-anchor="middle" id="es" transform="translate(-0.62,0) translate(342.80,0) scale(1.1000,1) translate(-342.80,0)">s</text>
<text x="455.5" y="1128.7" font-size="40" text-anchor="middle" id="ep" transform="translate(1.06,0) translate(455.50,0) scale(1.0167,1) translate(-455.50,0)">p</text>
<line x1="102.8" y1="1105.7" x2="116.8" y2="1105.7" stroke="#000" stroke-width="3.8"/>
<text x="88.0" y="1119.1" font-size="40" text-anchor="end" id="ey0" transform="translate(-0.52,0) translate(88.00,0) scale(0.9778,1) translate(-88.00,0)">0</text>
<line x1="102.8" y1="992.6" x2="116.8" y2="992.6" stroke="#000" stroke-width="3.8"/>
<text x="88.0" y="1006.0" font-size="40" text-anchor="end" id="ey2" transform="translate(0.12,0) translate(88.00,0) scale(1.0118,1) translate(-88.00,0)">2</text>
<line x1="118.7" y1="1137.9" x2="118.7" y2="1151.9" stroke="#000" stroke-width="3.8"/>
<line x1="342.8" y1="1137.9" x2="342.8" y2="1151.9" stroke="#000" stroke-width="3.8"/>
<line x1="566.8" y1="1137.9" x2="566.8" y2="1151.9" stroke="#000" stroke-width="3.8"/>
<text id="eyl1" transform="translate(30.30,1105.00) rotate(-90) translate(-0.96,0) scale(0.9588,1)" x="0" y="0" font-size="40" font-style="italic">c</text>
<text id="eyl2" transform="translate(30.30,1088.20) rotate(-90) translate(-0.21,0) scale(1.0250,1)" x="0" y="4" font-size="28">e</text>
<text id="eyl3" transform="translate(33.50,1069.80) rotate(-90) translate(0.27,0) scale(1.3385,1)" x="0" y="0" font-size="46">/</text>
<text id="eyl4" transform="translate(30.30,1050.90) rotate(-90) translate(-0.87,0) scale(0.9647,1)" x="0" y="0" font-size="40" font-style="italic">c</text>
<text id="eyl5" transform="translate(30.30,1033.50) rotate(-90) translate(-0.61,0) scale(1.2240,1)" x="0" y="4" font-size="28">e,ref</text>
<line x1="118.7" y1="1340.2" x2="566.8" y2="1340.2" stroke="#000" stroke-width="1.5"/>
<g clip-path="url(#cj0)">
<polyline points="118.7,1259.5 123.5,1259.5 128.2,1259.5 133.0,1259.5 137.8,1259.5 142.5,1259.5 147.3,1259.5 152.1,1259.5 156.8,1259.5 161.6,1259.5 166.4,1259.5 171.1,1259.5 175.9,1259.5 180.6,1259.5 185.4,1259.5 190.2,1259.5 194.9,1259.5 199.7,1259.5 204.5,1259.5 209.2,1259.5 214.0,1259.5 218.8,1259.5 223.5,1259.5 228.3,1259.5 233.1,1259.5 237.8,1259.5 242.6,1259.5 247.4,1259.5 252.1,1259.5 256.9,1259.5 261.7,1259.5 266.4,1259.5 271.2,1259.5 275.9,1259.5 280.7,1259.5 285.5,1259.5 290.2,1259.5 295.0,1259.5 299.8,1259.5 304.5,1259.5 309.3,1259.5 315.7,1340.2 358.9,1340.2 365.3,1288.0 370.3,1288.0 375.4,1288.0 380.4,1288.0 385.4,1288.0 390.5,1288.0 395.5,1288.0 400.6,1288.0 405.6,1288.0 410.6,1288.0 415.7,1288.0 420.7,1288.0 425.8,1288.0 430.8,1288.0 435.8,1288.0 440.9,1288.0 445.9,1288.0 450.9,1288.0 456.0,1288.0 461.0,1288.0 466.0,1288.0 471.1,1288.0 476.1,1288.0 481.2,1288.0 486.2,1288.0 491.2,1288.0 496.3,1288.0 501.3,1288.0 506.3,1288.0 511.4,1288.0 516.4,1288.0 521.5,1288.0 526.5,1288.0 531.5,1288.0 536.6,1288.0 541.6,1288.0 546.6,1288.0 551.7,1288.0 556.7,1288.0 561.8,1288.0 566.8,1288.0 568.5,1288.0" fill="none" stroke="rgb(255,223,223)" stroke-width="6.6" stroke-linejoin="round"/>
<polyline points="118.7,1229.5 123.5,1229.5 128.2,1229.5 133.0,1229.5 137.8,1229.5 142.5,1229.5 147.3,1229.5 152.1,1229.5 156.8,1229.6 161.6,1229.6 166.4,1229.6 171.1,1229.6 175.9,1229.7 180.6,1229.8 185.4,1229.8 190.2,1229.9 194.9,1230.0 199.7,1230.1 204.5,1230.2 209.2,1230.4 214.0,1230.6 218.8,1230.7 223.5,1230.9 228.3,1231.2 233.1,1231.4 237.8,1231.7 242.6,1232.0 247.4,1232.3 252.1,1232.7 256.9,1233.1 261.7,1233.5 266.4,1234.0 271.2,1234.5 275.9,1235.0 280.7,1235.6 285.5,1236.2 290.2,1236.8 295.0,1237.5 299.8,1238.3 304.5,1239.1 309.3,1239.9 315.7,1340.2 358.9,1340.2 365.3,1249.0 385.0,1252.5 400.0,1254.5 440.0,1258.0 500.0,1260.5 566.8,1261.9 568.5,1261.9" fill="none" stroke="rgb(255,191,191)" stroke-width="6.6" stroke-linejoin="round"/>
<polyline points="118.7,1207.2 123.5,1207.2 128.2,1207.2 133.0,1207.2 137.8,1207.2 142.5,1207.3 147.3,1207.3 152.1,1207.4 156.8,1207.4 161.6,1207.5 166.4,1207.6 171.1,1207.8 175.9,1207.9 180.6,1208.1 185.4,1208.3 190.2,1208.6 194.9,1208.8 199.7,1209.1 204.5,1209.5 209.2,1209.8 214.0,1210.2 218.8,1210.7 223.5,1211.2 228.3,1211.7 233.1,1212.3 237.8,1212.9 242.6,1213.5 247.4,1214.3 252.1,1215.0 256.9,1215.8 261.7,1216.7 266.4,1217.6 271.2,1218.5 275.9,1219.6 280.7,1220.6 285.5,1221.8 290.2,1223.0 295.0,1224.2 299.8,1225.6 304.5,1226.9 309.3,1228.4 315.7,1340.2 358.9,1340.2 365.3,1240.0 385.0,1249.0 400.0,1255.0 420.0,1260.5 440.0,1264.5 492.0,1269.1 530.0,1271.5 566.8,1273.0 568.5,1273.0" fill="none" stroke="rgb(255,159,159)" stroke-width="6.6" stroke-linejoin="round"/>
<polyline points="118.7,1193.3 123.5,1193.3 128.2,1193.3 133.0,1193.4 137.8,1193.5 142.5,1193.6 147.3,1193.7 152.1,1193.9 156.8,1194.1 161.6,1194.3 166.4,1194.6 171.1,1194.9 175.9,1195.2 180.6,1195.6 185.4,1196.0 190.2,1196.5 194.9,1197.0 199.7,1197.5 204.5,1198.1 209.2,1198.8 214.0,1199.5 218.8,1200.2 223.5,1201.0 228.3,1201.8 233.1,1202.7 237.8,1203.6 242.6,1204.6 247.4,1205.6 252.1,1206.7 256.9,1207.8 261.7,1209.0 266.4,1210.2 271.2,1211.5 275.9,1212.8 280.7,1214.2 285.5,1215.7 290.2,1217.2 295.0,1218.7 299.8,1220.3 304.5,1222.0 309.3,1223.7 315.7,1340.2 358.9,1340.2 365.3,1233.0 368.4,1234.0 408.0,1251.0 440.0,1267.1 466.0,1278.9 492.1,1289.3 518.2,1298.4 544.2,1304.3 566.8,1307.5 568.5,1307.5" fill="none" stroke="rgb(255,128,128)" stroke-width="6.6" stroke-linejoin="round"/>
</g>
<line x1="315.7" y1="1348.6" x2="315.7" y2="1136" stroke="#808080" stroke-width="2.2" stroke-dasharray="8.1 3.6"/>
<line x1="358.9" y1="1348.6" x2="358.9" y2="1136" stroke="#808080" stroke-width="2.2" stroke-dasharray="8.1 3.6"/>
<rect x="244" y="1144" width="316" height="32.5" fill="#fff"/>
<text x="248.3" y="1174.0" font-size="40" id="jt1_w0" transform="translate(-0.74,0) translate(248.30,0) scale(1.0596,1) translate(-248.30,0)">Exchange</text>
<text x="430.1" y="1174.0" font-size="40" id="jt1_w1" transform="translate(-1.00,0) translate(430.10,0) scale(1.1124,1) translate(-430.10,0)">current</text>
<text x="555.8" y="1214.4" font-size="40" text-anchor="end" id="jt2" transform="translate(-1.91,0) translate(555.80,0) scale(1.0496,1) translate(-555.80,0)">density</text>
<rect x="118.7" y="1136" width="448.1" height="212.6" fill="none" stroke="#000" stroke-width="3.8" stroke-linejoin="miter"/>
<g clip-path="url(#cj)">
<polyline points="118.7,1188.7 123.5,1188.7 128.2,1188.7 133.0,1188.8 137.8,1188.9 142.5,1189.0 147.3,1189.2 152.1,1189.4 156.8,1189.7 161.6,1190.0 166.4,1190.3 171.1,1190.7 175.9,1191.1 180.6,1191.6 185.4,1192.1 190.2,1192.6 194.9,1193.2 199.7,1193.9 204.5,1194.6 209.2,1195.3 214.0,1196.1 218.8,1196.9 223.5,1197.8 228.3,1198.7 233.1,1199.7 237.8,1200.8 242.6,1201.8 247.4,1203.0 252.1,1204.2 256.9,1205.4 261.7,1206.7 266.4,1208.0 271.2,1209.4 275.9,1210.9 280.7,1212.4 285.5,1214.0 290.2,1215.6 295.0,1217.3 299.8,1219.0 304.5,1220.8 309.3,1222.6 315.7,1340.2 358.9,1340.2 365.3,1224.0 368.4,1227.0 408.0,1250.5 440.0,1271.0 466.0,1282.8 492.1,1297.1 511.6,1310.1 524.7,1323.2 533.8,1336.2 536.4,1340.2 566.8,1340.2 568.5,1340.2" fill="none" stroke="#696969" stroke-width="6.6" stroke-linejoin="round"/>
<polyline points="118.7,1184.6 123.5,1184.6 128.2,1184.7 133.0,1184.7 137.8,1184.9 142.5,1185.0 147.3,1185.2 152.1,1185.4 156.8,1185.7 161.6,1186.0 166.4,1186.4 171.1,1186.8 175.9,1187.3 180.6,1187.8 185.4,1188.3 190.2,1188.9 194.9,1189.5 199.7,1190.2 204.5,1191.0 209.2,1191.7 214.0,1192.6 218.8,1193.5 223.5,1194.4 228.3,1195.4 233.1,1196.4 237.8,1197.5 242.6,1198.6 247.4,1199.8 252.1,1201.0 256.9,1202.3 261.7,1203.7 266.4,1205.1 271.2,1206.5 275.9,1208.0 280.7,1209.6 285.5,1211.2 290.2,1212.8 295.0,1214.5 299.8,1216.3 304.5,1218.1 309.3,1220.0 315.7,1340.2 358.9,1340.2 365.3,1214.0 405.7,1249.0 440.0,1276.3 459.5,1291.9 479.1,1315.3 489.5,1333.6 493.0,1340.2 566.8,1340.2 568.5,1340.2" fill="none" stroke="rgb(255,96,96)" stroke-width="6.6" stroke-linejoin="round"/>
<polyline points="118.7,1180.0 123.5,1180.0 128.2,1180.1 133.0,1180.2 137.8,1180.3 142.5,1180.5 147.3,1180.7 152.1,1181.0 156.8,1181.3 161.6,1181.7 166.4,1182.1 171.1,1182.6 175.9,1183.1 180.6,1183.6 185.4,1184.2 190.2,1184.9 194.9,1185.6 199.7,1186.4 204.5,1187.2 209.2,1188.1 214.0,1189.0 218.8,1189.9 223.5,1191.0 228.3,1192.0 233.1,1193.2 237.8,1194.3 242.6,1195.6 247.4,1196.9 252.1,1198.2 256.9,1199.6 261.7,1201.0 266.4,1202.5 271.2,1204.1 275.9,1205.7 280.7,1207.4 285.5,1209.1 290.2,1210.9 295.0,1212.7 299.8,1214.6 304.5,1216.5 309.3,1218.5 315.7,1340.2 358.9,1340.2 365.3,1213.0 405.7,1248.5 440.0,1280.2 459.5,1306.2 468.7,1325.8 471.3,1336.2 472.5,1340.2 566.8,1340.2 568.5,1340.2" fill="none" stroke="rgb(255,64,64)" stroke-width="6.6" stroke-linejoin="round"/>
<polyline points="118.7,1176.0 123.5,1176.0 128.2,1176.1 133.0,1176.2 137.8,1176.4 142.5,1176.6 147.3,1176.8 152.1,1177.2 156.8,1177.5 161.6,1177.9 166.4,1178.4 171.1,1178.9 175.9,1179.5 180.6,1180.1 185.4,1180.8 190.2,1181.5 194.9,1182.3 199.7,1183.1 204.5,1184.0 209.2,1184.9 214.0,1185.9 218.8,1186.9 223.5,1188.0 228.3,1189.2 233.1,1190.4 237.8,1191.6 242.6,1193.0 247.4,1194.3 252.1,1195.7 256.9,1197.2 261.7,1198.7 266.4,1200.3 271.2,1201.9 275.9,1203.6 280.7,1205.4 285.5,1207.2 290.2,1209.0 295.0,1210.9 299.8,1212.9 304.5,1214.9 309.3,1217.0 315.7,1340.2 358.9,1340.2 365.3,1212.0 405.7,1248.3 440.0,1288.0 452.0,1312.0 458.0,1330.0 461.6,1340.2 566.8,1340.2 568.5,1340.2" fill="none" stroke="rgb(255,32,32)" stroke-width="6.6" stroke-linejoin="round"/>
<polyline points="118.7,1171.9 123.5,1171.9 128.2,1172.0 133.0,1172.1 137.8,1172.3 142.5,1172.6 147.3,1172.9 152.1,1173.2 156.8,1173.7 161.6,1174.1 166.4,1174.6 171.1,1175.2 175.9,1175.8 180.6,1176.5 185.4,1177.3 190.2,1178.1 194.9,1178.9 199.7,1179.8 204.5,1180.8 209.2,1181.8 214.0,1182.9 218.8,1184.0 223.5,1185.1 228.3,1186.4 233.1,1187.7 237.8,1189.0 242.6,1190.4 247.4,1191.9 252.1,1193.4 256.9,1194.9 261.7,1196.5 266.4,1198.2 271.2,1199.9 275.9,1201.7 280.7,1203.5 285.5,1205.4 290.2,1207.4 295.0,1209.4 299.8,1211.4 304.5,1213.5 309.3,1215.7 315.7,1340.2 358.9,1340.2 365.3,1210.2 405.7,1248.1 419.6,1266.1 432.1,1284.0 440.0,1301.0 447.7,1329.0 459.5,1340.2 566.8,1340.2 568.5,1340.2" fill="none" stroke="rgb(255,0,0)" stroke-width="6.6" stroke-linejoin="round"/>
</g>
<line x1="102.8" y1="1340.2" x2="116.8" y2="1340.2" stroke="#000" stroke-width="3.8"/>
<text x="88.0" y="1353.6" font-size="40" text-anchor="end" id="jy0" transform="translate(-0.28,0) translate(88.00,0) scale(1.0167,1) translate(-88.00,0)">0</text>
<line x1="102.8" y1="1228.3" x2="116.8" y2="1228.3" stroke="#000" stroke-width="3.8"/>
<text x="88.0" y="1241.7" font-size="40" text-anchor="end" id="jy2" transform="translate(0.12,0) translate(88.00,0) scale(1.0118,1) translate(-88.00,0)">2</text>
<line x1="118.7" y1="1350.5" x2="118.7" y2="1364.5" stroke="#000" stroke-width="3.8"/>
<text x="118.7" y="1407.5" font-size="40" text-anchor="middle" id="jx0.0" transform="translate(-0.76,0) translate(118.70,0) scale(1.0229,1) translate(-118.70,0)">0.0</text>
<line x1="342.8" y1="1350.5" x2="342.8" y2="1364.5" stroke="#000" stroke-width="3.8"/>
<text x="342.8" y="1407.5" font-size="40" text-anchor="middle" id="jx0.5" transform="translate(-1.40,0) translate(342.75,0) scale(0.9833,1) translate(-342.75,0)">0.5</text>
<line x1="566.8" y1="1350.5" x2="566.8" y2="1364.5" stroke="#000" stroke-width="3.8"/>
<text x="566.8" y="1407.5" font-size="40" text-anchor="middle" id="jx1.0" transform="translate(-1.44,0) translate(566.80,0) scale(1.0348,1) translate(-566.80,0)">1.0</text>
<text x="196.8" y="1443.7" font-size="40" id="jxl_w0" transform="translate(-1.24,0) translate(196.80,0) scale(1.0369,1) translate(-196.80,0)">Cell</text>
<text x="281.0" y="1443.7" font-size="40" id="jxl_w1" transform="translate(0.00,0) translate(281.00,0) scale(1.0662,1) translate(-281.00,0)">thickness</text>
<text x="455.7" y="1443.7" font-size="40" id="jxl_w2" transform="translate(-2.02,0) translate(455.70,0) scale(0.8771,1) translate(-455.70,0)">[-]</text>
<text id="jyl1" transform="translate(30.70,1343.70) rotate(-90) translate(5.93,0) scale(1.3800,1)" x="0" y="0" font-size="40" font-style="italic">j</text>
<text id="jyl2" transform="translate(30.70,1324.30) rotate(-90) translate(-0.31,0) scale(1.0462,1)" x="0" y="4" font-size="28">0</text>
<text id="jyl3" transform="translate(30.70,1289.40) rotate(-90) translate(-2.36,0) scale(0.9832,1)" x="0" y="0" font-size="40">[A.m-2]</text>
<rect x="609.8" y="890.5" width="383.5" height="574.5" rx="9" ry="9" fill="#fff" fill-opacity="0.8" stroke="#cccccc" stroke-width="4.2"/>
<rect x="626" y="951.5" width="79.7" height="27.5" fill="#79add2"/>
<rect x="626" y="1087.7" width="79.7" height="27.5" fill="#ffb26e"/>
<rect x="626" y="1205" width="79.7" height="27.5" fill="#80c680"/>
<rect x="626" y="1320.7" width="79.7" height="27.5" fill="#e67d7e"/>
<rect x="626" y="1413.3" width="79.7" height="27.5" fill="#ba9a93"/>
<text x="737.6" y="933.1" font-size="40" id="L2_933" transform="translate(0.05,0) translate(737.60,0) scale(1.1231,1) translate(-737.60,0)">Particle</text>
<text x="737.6" y="974.4" font-size="40" id="L2_974" transform="translate(-1.04,0) translate(737.60,0) scale(1.1014,1) translate(-737.60,0)">concentration</text>
<text x="737.6" y="1015.0" font-size="40" id="L2_1015" transform="translate(-1.03,0) translate(737.60,0) scale(1.0952,1) translate(-737.60,0)">overpotential</text>
<text x="737.6" y="1071.4" font-size="40" id="L2_1071" transform="translate(0.16,0) translate(737.60,0) scale(1.1017,1) translate(-737.60,0)">Electrolyte</text>
<text x="737.6" y="1111.1" font-size="40" id="L2_1111" transform="translate(-0.94,0) translate(737.60,0) scale(1.1009,1) translate(-737.60,0)">concentration</text>
<text x="737.6" y="1152.0" font-size="40" id="L2_1152" transform="translate(-0.93,0) translate(737.60,0) scale(1.0947,1) translate(-737.60,0)">overpotential</text>
<text x="737.6" y="1205.7" font-size="40" id="L2_1205" transform="translate(0.16,0) translate(737.60,0) scale(1.1016,1) translate(-737.60,0)">BV reaction</text>
<text x="737.6" y="1246.0" font-size="40" id="L2_1246" transform="translate(-0.93,0) translate(737.60,0) scale(1.0947,1) translate(-737.60,0)">overpotential</text>
<text x="737.6" y="1303.1" font-size="40" id="L2_1303" transform="translate(-1.51,0) translate(737.60,0) scale(1.0804,1) translate(-737.60,0)">Ohmic</text>
<text x="737.6" y="1343.7" font-size="40" id="L2_1343" transform="translate(-1.54,0) translate(737.60,0) scale(1.0982,1) translate(-737.60,0)">electrolyte</text>
<text x="737.6" y="1383.6" font-size="40" id="L2_1383" transform="translate(-1.54,0) translate(737.60,0) scale(1.0976,1) translate(-737.60,0)">overpotential</text>
<text x="737.6" y="1440.3" font-size="40" font-style="italic" id="L2_I" transform="translate(1.45,0) translate(737.60,0) scale(1.0875,1) translate(-737.60,0)">I</text>
<text x="759.6" y="1440.3" font-size="40" font-style="italic" id="L2_R" transform="translate(1.72,0) translate(759.60,0) scale(1.0320,1) translate(-759.60,0)">R</text>
<text x="789.6" y="1444.7" font-size="27" id="L2_tab" transform="translate(1.29,0) translate(789.60,0) scale(1.3121,1) translate(-789.60,0)">tab</text>
</svg>
</body></html>
